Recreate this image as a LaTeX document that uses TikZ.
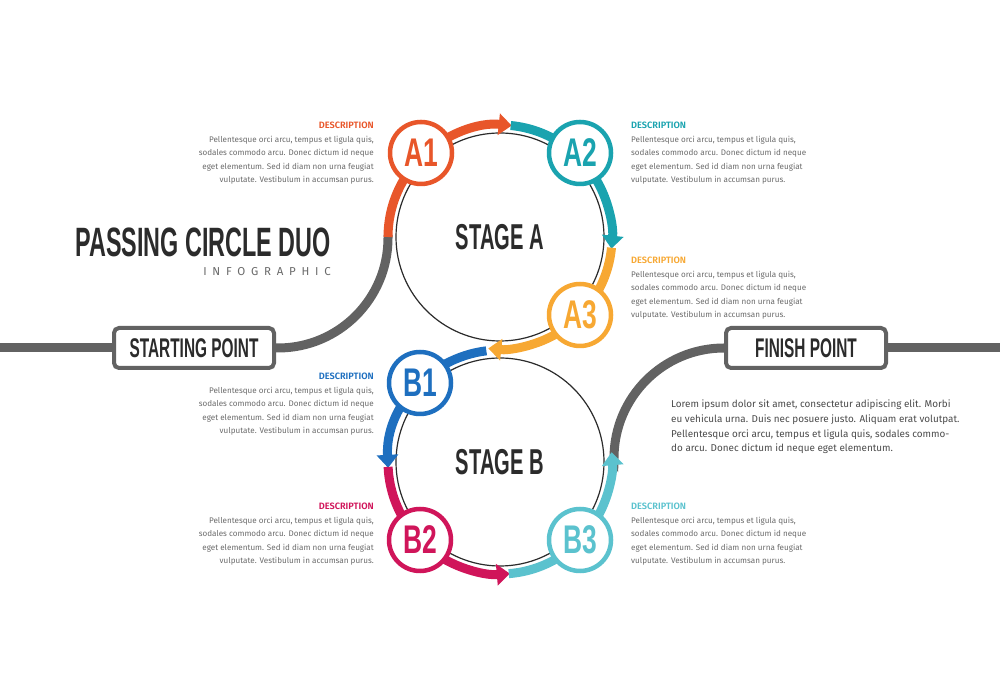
\documentclass[tikz,border=0pt]{standalone}
\usepackage{fontspec}
\setmainfont{Fira Sans}
\newfontfamily\headfont{Liberation Sans Bold}
\newfontfamily\descfont{Fira Sans}
\newfontfamily\desctitle{Fira Sans SemiBold}
\usetikzlibrary{arrows.meta,calc,backgrounds}
\newcommand\narrowtxt[2][0.66]{\scalebox{#1}[1]{#2}}
\definecolor{cOr}{HTML}{E8562A}
\definecolor{cTe}{HTML}{1AA3AF}
\definecolor{cYe}{HTML}{F7A833}
\definecolor{cBl}{HTML}{1E6FBF}
\definecolor{cCr}{HTML}{D0155A}
\definecolor{cLt}{HTML}{5BC2CE}
\definecolor{cGr}{HTML}{626262}
\definecolor{cTx}{HTML}{2B2B2B}
\definecolor{cDs}{HTML}{6A6A6A}
\begin{document}
\begin{tikzpicture}[x=1pt,y=1pt,
 band/.style={line width=9pt},
 tipped/.style={band,-{Triangle[width=21pt,length=13pt]}},
 badge/.style={circle,draw=#1,line width=4.5pt,fill=white,minimum size=62pt,inner sep=0pt,text=#1,font=\headfont\fontsize{40}{40}\selectfont},
 pbox/.style={draw=cGr,line width=4pt,rounded corners=5pt,fill=white,minimum width=160pt,minimum height=40pt,font=\headfont\fontsize{27}{27}\selectfont,text=cTx},
 dtl/.style={anchor=north east,align=right,text=cDs,font=\descfont\fontsize{8.1}{13.5}\selectfont,inner sep=0pt},
 dtr/.style={anchor=north west,align=left,text=cDs,font=\descfont\fontsize{8.1}{13.5}\selectfont,inner sep=0pt},
 stage/.style={font=\headfont\fontsize{36}{36}\selectfont,text=cTx}]
\useasboundingbox (0,0) rectangle (1000,695);
\coordinate (ca) at (500,458);
\coordinate (cb) at (500,233);
% thin circles
\draw[cTx,line width=1.2pt] (ca) circle[radius=104];
\draw[cTx,line width=1.2pt] (cb) circle[radius=104];
% boxes
\node[pbox] (sp) at (194,347) {\narrowtxt[0.57]{STARTING POINT}};
\node[pbox] (fp) at (806,347) {\narrowtxt[0.57]{FINISH POINT}};
\coordinate (le) at (0,347);
\coordinate (re) at (1000,347);
\begin{scope}[on background layer]
\draw[cGr,band] (le) -- (sp.west);
\draw[cGr,band] (sp.east) -- (278,347) arc[start angle=-90,end angle=0,radius=110] -- (388,460);
\draw[cGr,band] (fp.east) -- (re);
\draw[cGr,band] (fp.west) arc[start angle=90,end angle=180,radius=110] -- (612,240);
\end{scope}
% circle A arcs
\draw[cOr,band] ($(ca)+(180:112)$) arc[start angle=180,end angle=134,radius=112];
\draw[cOr,tipped] ($(ca)+(134:112)$) arc[start angle=134,end angle=84,radius=112];
\draw[cTe,tipped] ($(ca)+(84.5:112)$) arc[start angle=84.5,end angle=-6,radius=112];
\draw[cYe,tipped] ($(ca)+(-5.5:112)$) arc[start angle=-5.5,end angle=-96,radius=112];
% circle B arcs
\draw[cBl,tipped] ($(cb)+(97:112)$) arc[start angle=97,end angle=183,radius=112];
\draw[cCr,tipped] ($(cb)+(182.5:112)$) arc[start angle=182.5,end angle=275,radius=112];
\draw[cLt,tipped] ($(cb)+(274.5:112)$) arc[start angle=274.5,end angle=365,radius=112];
% badges
\node[badge=cOr] (a1) at (421,542) {\narrowtxt{A1}};
\node[badge=cTe] (a2) at (580,542) {\narrowtxt{A2}};
\node[badge=cYe] (a3) at (580,380) {\narrowtxt{A3}};
\node[badge=cBl] (b1) at (420,312) {\narrowtxt{B1}};
\node[badge=cCr] (b2) at (420,155) {\narrowtxt{B2}};
\node[badge=cLt] (b3) at (580,155) {\narrowtxt{B3}};
\node[stage] (sa) at (500,458) {\narrowtxt[0.56]{STAGE A}};
\node[stage] (sb) at (500,233) {\narrowtxt[0.56]{STAGE B}};
% title
\node[anchor=east,font=\headfont\fontsize{41}{41}\selectfont,text=cTx,inner sep=0pt] (tt) at (331,453) {\narrowtxt[0.57]{PASSING CIRCLE DUO}};
\node[anchor=east,font=\descfont\fontsize{11.5}{11.5}\selectfont,text=cDs,inner sep=0pt] (st) at (331,423) {I\,\,\,N\,\,\,F\,\,\,O\,\,\,G\,\,\,R\,\,\,A\,\,\,P\,\,\,H\,\,\,I\,\,\,C};
% descriptions
\newcommand\dbody{Pellentesque orci arcu, tempus et ligula quis,\\sodales commodo arcu. Donec dictum id neque\\eget elementum. Sed id diam non urna feugiat\\vulputate. Vestibulum in accumsan purus.}
\newcommand\dhead[1]{{\desctitle\fontsize{9.2}{9.2}\selectfont\color{#1}DESCRIPTION}}
\node[dtl] (d1) at (374,573) {\dhead{cOr}\\\dbody};
\node[dtr] (d2) at (631,573) {\dhead{cTe}\\\dbody};
\node[dtr] (d3) at (631,438) {\dhead{cYe}\\\dbody};
\node[dtl] (d4) at (374,322) {\dhead{cBl}\\\dbody};
\node[dtl] (d5) at (374,192) {\dhead{cCr}\\\dbody};
\node[dtr] (d6) at (631,192) {\dhead{cLt}\\\dbody};
\node[anchor=north west,align=left,text=cTx!85,font=\descfont\fontsize{9.9}{14.6}\selectfont,inner sep=0pt] (para) at (671,295) {Lorem ipsum dolor sit amet, consectetur adipiscing elit. Morbi\\eu vehicula urna. Duis nec posuere justo. Aliquam erat volutpat.\\Pellentesque orci arcu, tempus et ligula quis, sodales commo-\\do arcu. Donec dictum id neque eget elementum.};
\end{tikzpicture}
\end{document}
